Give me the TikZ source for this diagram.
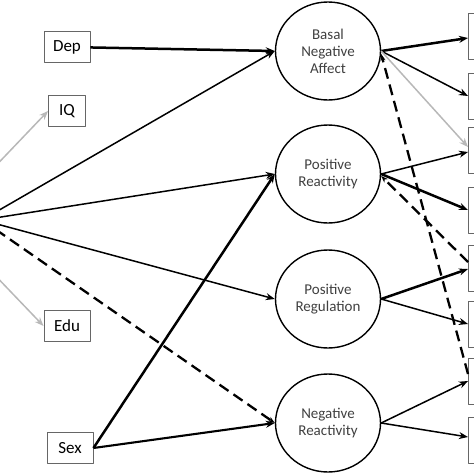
\documentclass[tikz,border=0pt]{standalone}
\usepackage{fontspec}
\setmainfont{Carlito}
\usetikzlibrary{arrows.meta,shapes.geometric}

\begin{document}
\begin{tikzpicture}[x=1pt,y=-1pt,line join=round,
    obs/.style={draw=black!60,line width=0.9pt,minimum width=46pt,minimum height=31pt,
      inner sep=1pt,font=\fontsize{17}{17}\selectfont},
    lat/.style={ellipse,draw,line width=1.4pt,minimum width=105pt,minimum height=98pt,
      inner sep=0pt,align=center,text=black!75,font=\fontsize{15}{17}\selectfont},
    outbox/.style={draw=black!60,line width=0.9pt,minimum width=50pt,minimum height=46pt},
    arr/.style={-{Stealth[length=9pt,width=7pt]},line width=1.5pt},
    strong/.style={arr,line width=2.5pt},
    grey/.style={arr,draw=black!28,fill=black!28},
    dashpath/.style={-{Stealth[length=7pt,width=5pt]},line width=2.3pt,dash pattern=on 11pt off 6pt}]

  \useasboundingbox (0,0) rectangle (474,474);
  \clip (0,0) rectangle (474,474);

  % predictors on the left
  \node[obs] (dep) at (67,47) {Dep};
  \node[obs,minimum width=37pt] (iq) at (67,111) {IQ};
  \node[obs] (edu) at (67,326) {Edu};
  \node[obs] (sex) at (70,448) {Sex};

  % sources outside the frame
  \coordinate (age) at (-18,220);
  \coordinate (ses) at (-57,221);

  % latent factors
  \node[lat] (bna) at (328,51)  {Basal\\Negative\\Affect};
  \node[lat] (pre) at (328,174) {Positive\\Reactivity};
  \node[lat] (prg) at (328,299) {Positive\\Regulation};
  \node[lat] (nre) at (328,423) {Negative\\Reactivity};

  % indicators, cut by the right edge
  \foreach \y [count=\i] in {36,96,150,210,268,324,381,440}
    \node[outbox,anchor=west] (out\i) at (468,\y) {};

  % left side paths
  \draw[grey] (ses) -- (iq.west);
  \draw[grey] (ses) -- (edu.west);
  \draw[strong] (dep) -- (bna.west);
  \draw[arr] (age) -- (bna.west);
  \draw[arr] (age) -- (pre.west);
  \draw[arr] (age) -- (prg.west);
  \draw[dashpath] (age) -- (nre.west);
  \draw[strong] (sex.east) -- (pre.west);
  \draw[strong,line width=2.1pt] (sex.east) -- (nre.west);

  % right side paths
  \draw[strong] (bna.east) -- ([yshift=-2pt]out1.west);
  \draw[arr] (bna.east) -- (out2.west);
  \draw[grey] (bna.east) -- ([yshift=3pt]out3.west);
  \draw[arr] (pre.east) -- ([yshift=-2pt]out3.west);
  \draw[strong] (pre.east) -- (out4.west);
  \draw[strong] (prg.east) -- ([yshift=-1pt]out5.west);
  \draw[arr] (prg.east) -- (out6.west);
  \draw[arr] (nre.east) -- (out7.west);
  \draw[arr] (nre.east) -- ([yshift=3pt]out8.west);
  \draw[dashpath] ([yshift=7pt]out7.west) -- ([yshift=-3pt]bna.east);
  \draw[dashpath] ([yshift=6pt]out5.west) -- ([yshift=-2pt]pre.east);
\end{tikzpicture}
\end{document}
